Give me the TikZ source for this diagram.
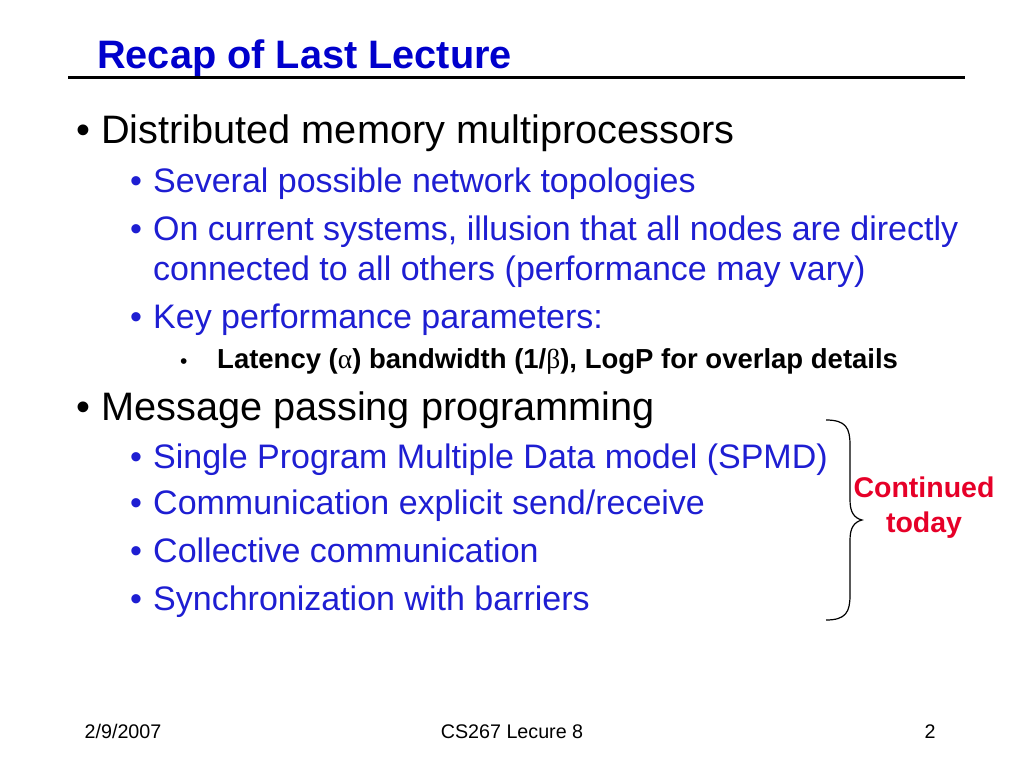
\documentclass[tikz,border=0pt]{standalone}
\usepackage{fontspec}
\setmainfont{Liberation Sans}
\newfontfamily\grk{Liberation Serif}
\definecolor{tblue}{RGB}{0,0,204}
\definecolor{sblue}{RGB}{30,30,210}
\definecolor{cred}{RGB}{230,0,40}
\begin{document}
\begin{tikzpicture}[x=1pt,y=-1pt,
  t/.style={anchor=base west,inner sep=0pt},
  l1/.style={t,font=\fontsize{39.7}{44}\selectfont},
  l2/.style={t,font=\fontsize{34}{38}\selectfont,text=sblue},
  l3/.style={t,font=\fontsize{27.5}{30}\selectfont\bfseries},
  ft/.style={inner sep=0pt,anchor=base,font=\fontsize{19.7}{22}\selectfont}]
\useasboundingbox (0,0) rectangle (1024,768);
\node[t,font=\fontsize{39.7}{44}\selectfont\bfseries,text=tblue] (title) at (97,68) {Recap of Last Lecture};
\draw[line width=3pt] (68,77) -- (965,77);
\node[l1] (b1) at (76,143) {\textbullet};
\node[l1] (a1) at (101,143) {Distributed memory multiprocessors};
\node[l2] (b2) at (130,192) {\textbullet};
\node[l2] (a2) at (153,192) {Several possible network topologies};
\node[l2] (b3) at (130,240) {\textbullet};
\node[l2] (a3) at (153,240) {On current systems, illusion that all nodes are directly};
\node[l2] (a3b) at (153,280) {connected to all others (performance may vary)};
\node[l2] (b4) at (130,328) {\textbullet};
\node[l2] (a4) at (153,328) {Key performance parameters:};
\node[t,font=\fontsize{21}{24}\selectfont] (b5) at (180,368) {\textbullet};
\node[l3] (a5) at (217,368) {Latency ({\grk\mdseries α}) bandwidth (1/{\grk\mdseries β}), LogP for overlap details};
\node[l1] (b6) at (76,420) {\textbullet};
\node[l1] (a6) at (101,420) {Message passing programming};
\node[l2] (b7) at (130,468) {\textbullet};
\node[l2] (a7) at (153,468) {Single Program Multiple Data model (SPMD)};
\node[l2] (b8) at (130,514) {\textbullet};
\node[l2] (a8) at (153,514) {Communication explicit send/receive};
\node[l2] (b9) at (130,562) {\textbullet};
\node[l2] (a9) at (153,562) {Collective communication};
\node[l2] (b10) at (130,610) {\textbullet};
\node[l2] (a10) at (153,610) {Synchronization with barriers};
\draw[line width=1.2pt] (826,420) .. controls (846,420) and (850,428) .. (850,445)
  -- (850,500) .. controls (850,512) and (854,518) .. (862,520)
  .. controls (854,522) and (850,528) .. (850,540) -- (850,595)
  .. controls (850,612) and (846,620) .. (826,620);
\node[inner sep=0pt,align=center,text=cred,font=\fontsize{28.5}{35}\selectfont\bfseries] (ct) at (924,508) {Continued\\today};
\node[ft] (f1) at (123,738) {2/9/2007};
\node[ft] (f2) at (512,738) {CS267 Lecure 8};
\node[ft] (f3) at (930,738) {2};
\end{tikzpicture}
\end{document}
